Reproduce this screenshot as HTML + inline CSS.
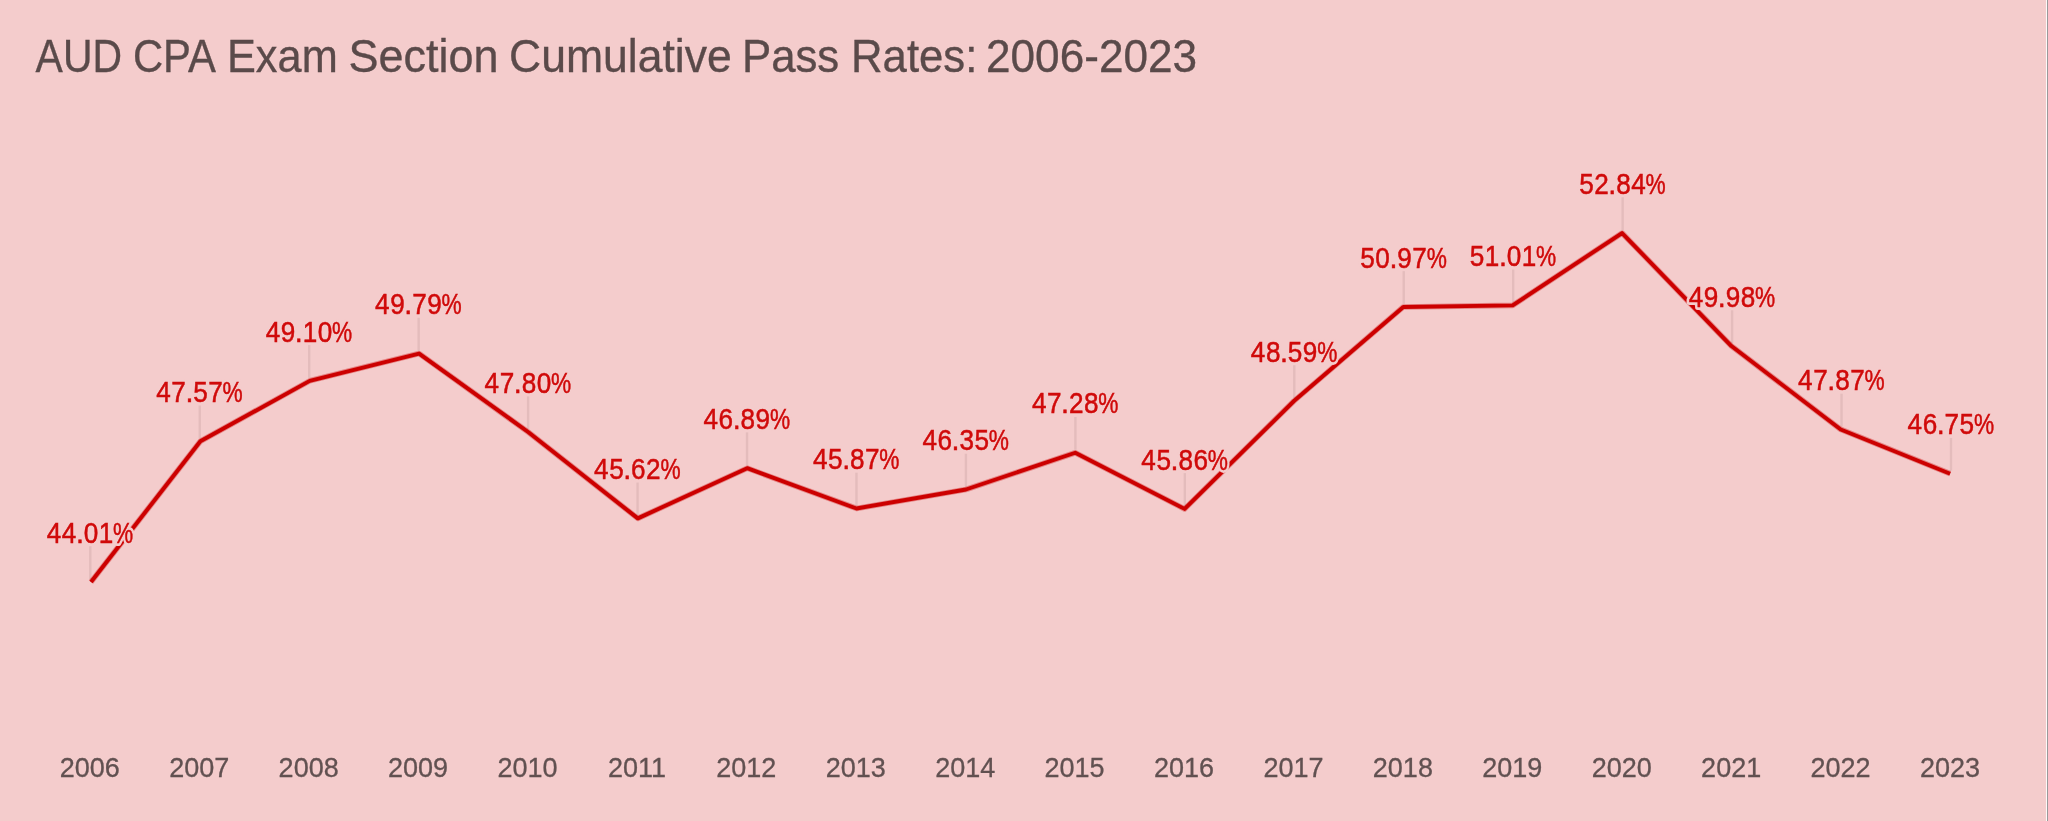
<!DOCTYPE html>
<html><head><meta charset="utf-8"><style>
html,body{margin:0;padding:0;background:#f4cccc;width:2048px;height:821px;overflow:hidden}
svg{display:block;will-change:transform}
text{font-family:"Liberation Sans",sans-serif}
.ld{stroke:#e4bcbc;stroke-width:2.4}
.lb{font-size:28.7px;fill:#d00a0a;stroke:#d00a0a;stroke-width:0.5px;text-anchor:middle}
.lb.halo{stroke:#f4cccc;fill:#f4cccc;stroke-width:6px;stroke-linejoin:round}
.ax{font-size:27px;fill:#615151;stroke:#615151;stroke-width:0.3px;text-anchor:middle}
.ti{font-size:46.5px;fill:#5a4a4a;stroke:#5a4a4a;stroke-width:0.35px}
</style></head><body>
<svg width="2048" height="821" viewBox="0 0 2048 821">
<rect x="0" y="0" width="2048" height="821" fill="#f4cccc"/>
<line x1="90.30" y1="546.20" x2="90.30" y2="579.00" class="ld"/>
<line x1="199.75" y1="405.51" x2="199.75" y2="438.31" class="ld"/>
<line x1="309.21" y1="345.04" x2="309.21" y2="377.84" class="ld"/>
<line x1="418.66" y1="317.77" x2="418.66" y2="350.57" class="ld"/>
<line x1="528.11" y1="396.42" x2="528.11" y2="429.22" class="ld"/>
<line x1="637.56" y1="482.57" x2="637.56" y2="515.37" class="ld"/>
<line x1="747.02" y1="432.38" x2="747.02" y2="465.18" class="ld"/>
<line x1="856.47" y1="472.69" x2="856.47" y2="505.49" class="ld"/>
<line x1="965.92" y1="453.72" x2="965.92" y2="486.52" class="ld"/>
<line x1="1075.38" y1="416.97" x2="1075.38" y2="449.77" class="ld"/>
<line x1="1184.83" y1="473.09" x2="1184.83" y2="505.89" class="ld"/>
<line x1="1294.28" y1="365.20" x2="1294.28" y2="398.00" class="ld"/>
<line x1="1403.74" y1="271.14" x2="1403.74" y2="303.94" class="ld"/>
<line x1="1513.19" y1="269.56" x2="1513.19" y2="302.36" class="ld"/>
<line x1="1622.64" y1="197.24" x2="1622.64" y2="230.04" class="ld"/>
<line x1="1732.09" y1="310.27" x2="1732.09" y2="343.07" class="ld"/>
<line x1="1841.55" y1="393.65" x2="1841.55" y2="426.45" class="ld"/>
<line x1="1951.00" y1="437.92" x2="1951.00" y2="470.72" class="ld"/>
<polyline points="91.00,582.00 200.36,441.31 309.72,380.84 419.08,353.57 528.44,432.22 637.80,518.37 747.16,468.18 856.52,508.49 965.88,489.52 1075.24,452.77 1184.60,508.89 1293.96,401.00 1403.32,306.94 1512.68,305.36 1622.04,233.04 1731.40,346.07 1840.76,429.45 1950.12,473.72" fill="none" stroke="#cc0000" stroke-opacity="0.35" stroke-width="5.6" stroke-linejoin="round" stroke-linecap="butt"/>
<polyline points="91.00,582.00 200.36,441.31 309.72,380.84 419.08,353.57 528.44,432.22 637.80,518.37 747.16,468.18 856.52,508.49 965.88,489.52 1075.24,452.77 1184.60,508.89 1293.96,401.00 1403.32,306.94 1512.68,305.36 1622.04,233.04 1731.40,346.07 1840.76,429.45 1950.12,473.72" fill="none" stroke="#cc0000" stroke-width="3.9" stroke-linejoin="round" stroke-linecap="butt"/>
<text transform="translate(54.00,542.70) scale(0.91,1)" class="lb halo">4</text>
<text transform="translate(69.10,542.70) scale(0.91,1)" class="lb halo">4</text>
<text transform="translate(79.90,542.70) scale(1.0,1)" class="lb halo">.</text>
<text transform="translate(91.05,542.70) scale(0.91,1)" class="lb halo">0</text>
<text transform="translate(106.05,542.70) scale(0.91,1)" class="lb halo">1</text>
<text transform="translate(123.20,542.70) scale(0.79,1)" class="lb halo">%</text>
<text transform="translate(163.46,402.01) scale(0.91,1)" class="lb halo">4</text>
<text transform="translate(178.56,402.01) scale(0.91,1)" class="lb halo">7</text>
<text transform="translate(189.36,402.01) scale(1.0,1)" class="lb halo">.</text>
<text transform="translate(200.51,402.01) scale(0.91,1)" class="lb halo">5</text>
<text transform="translate(215.51,402.01) scale(0.91,1)" class="lb halo">7</text>
<text transform="translate(232.66,402.01) scale(0.79,1)" class="lb halo">%</text>
<text transform="translate(272.92,341.54) scale(0.91,1)" class="lb halo">4</text>
<text transform="translate(288.02,341.54) scale(0.91,1)" class="lb halo">9</text>
<text transform="translate(298.82,341.54) scale(1.0,1)" class="lb halo">.</text>
<text transform="translate(309.97,341.54) scale(0.91,1)" class="lb halo">1</text>
<text transform="translate(324.97,341.54) scale(0.91,1)" class="lb halo">0</text>
<text transform="translate(342.12,341.54) scale(0.79,1)" class="lb halo">%</text>
<text transform="translate(382.38,314.27) scale(0.91,1)" class="lb halo">4</text>
<text transform="translate(397.48,314.27) scale(0.91,1)" class="lb halo">9</text>
<text transform="translate(408.28,314.27) scale(1.0,1)" class="lb halo">.</text>
<text transform="translate(419.43,314.27) scale(0.91,1)" class="lb halo">7</text>
<text transform="translate(434.43,314.27) scale(0.91,1)" class="lb halo">9</text>
<text transform="translate(451.58,314.27) scale(0.79,1)" class="lb halo">%</text>
<text transform="translate(491.84,392.92) scale(0.91,1)" class="lb halo">4</text>
<text transform="translate(506.94,392.92) scale(0.91,1)" class="lb halo">7</text>
<text transform="translate(517.74,392.92) scale(1.0,1)" class="lb halo">.</text>
<text transform="translate(528.89,392.92) scale(0.91,1)" class="lb halo">8</text>
<text transform="translate(543.89,392.92) scale(0.91,1)" class="lb halo">0</text>
<text transform="translate(561.04,392.92) scale(0.79,1)" class="lb halo">%</text>
<text transform="translate(601.30,479.07) scale(0.91,1)" class="lb halo">4</text>
<text transform="translate(616.40,479.07) scale(0.91,1)" class="lb halo">5</text>
<text transform="translate(627.20,479.07) scale(1.0,1)" class="lb halo">.</text>
<text transform="translate(638.35,479.07) scale(0.91,1)" class="lb halo">6</text>
<text transform="translate(653.35,479.07) scale(0.91,1)" class="lb halo">2</text>
<text transform="translate(670.50,479.07) scale(0.79,1)" class="lb halo">%</text>
<text transform="translate(710.76,428.88) scale(0.91,1)" class="lb halo">4</text>
<text transform="translate(725.86,428.88) scale(0.91,1)" class="lb halo">6</text>
<text transform="translate(736.66,428.88) scale(1.0,1)" class="lb halo">.</text>
<text transform="translate(747.81,428.88) scale(0.91,1)" class="lb halo">8</text>
<text transform="translate(762.81,428.88) scale(0.91,1)" class="lb halo">9</text>
<text transform="translate(779.96,428.88) scale(0.79,1)" class="lb halo">%</text>
<text transform="translate(820.22,469.19) scale(0.91,1)" class="lb halo">4</text>
<text transform="translate(835.32,469.19) scale(0.91,1)" class="lb halo">5</text>
<text transform="translate(846.12,469.19) scale(1.0,1)" class="lb halo">.</text>
<text transform="translate(857.27,469.19) scale(0.91,1)" class="lb halo">8</text>
<text transform="translate(872.27,469.19) scale(0.91,1)" class="lb halo">7</text>
<text transform="translate(889.42,469.19) scale(0.79,1)" class="lb halo">%</text>
<text transform="translate(929.68,450.22) scale(0.91,1)" class="lb halo">4</text>
<text transform="translate(944.78,450.22) scale(0.91,1)" class="lb halo">6</text>
<text transform="translate(955.58,450.22) scale(1.0,1)" class="lb halo">.</text>
<text transform="translate(966.73,450.22) scale(0.91,1)" class="lb halo">3</text>
<text transform="translate(981.73,450.22) scale(0.91,1)" class="lb halo">5</text>
<text transform="translate(998.88,450.22) scale(0.79,1)" class="lb halo">%</text>
<text transform="translate(1039.14,413.47) scale(0.91,1)" class="lb halo">4</text>
<text transform="translate(1054.24,413.47) scale(0.91,1)" class="lb halo">7</text>
<text transform="translate(1065.04,413.47) scale(1.0,1)" class="lb halo">.</text>
<text transform="translate(1076.19,413.47) scale(0.91,1)" class="lb halo">2</text>
<text transform="translate(1091.19,413.47) scale(0.91,1)" class="lb halo">8</text>
<text transform="translate(1108.34,413.47) scale(0.79,1)" class="lb halo">%</text>
<text transform="translate(1148.60,469.59) scale(0.91,1)" class="lb halo">4</text>
<text transform="translate(1163.70,469.59) scale(0.91,1)" class="lb halo">5</text>
<text transform="translate(1174.50,469.59) scale(1.0,1)" class="lb halo">.</text>
<text transform="translate(1185.65,469.59) scale(0.91,1)" class="lb halo">8</text>
<text transform="translate(1200.65,469.59) scale(0.91,1)" class="lb halo">6</text>
<text transform="translate(1217.80,469.59) scale(0.79,1)" class="lb halo">%</text>
<text transform="translate(1258.06,361.70) scale(0.91,1)" class="lb halo">4</text>
<text transform="translate(1273.16,361.70) scale(0.91,1)" class="lb halo">8</text>
<text transform="translate(1283.96,361.70) scale(1.0,1)" class="lb halo">.</text>
<text transform="translate(1295.11,361.70) scale(0.91,1)" class="lb halo">5</text>
<text transform="translate(1310.11,361.70) scale(0.91,1)" class="lb halo">9</text>
<text transform="translate(1327.26,361.70) scale(0.79,1)" class="lb halo">%</text>
<text transform="translate(1367.52,267.64) scale(0.91,1)" class="lb halo">5</text>
<text transform="translate(1382.62,267.64) scale(0.91,1)" class="lb halo">0</text>
<text transform="translate(1393.42,267.64) scale(1.0,1)" class="lb halo">.</text>
<text transform="translate(1404.57,267.64) scale(0.91,1)" class="lb halo">9</text>
<text transform="translate(1419.57,267.64) scale(0.91,1)" class="lb halo">7</text>
<text transform="translate(1436.72,267.64) scale(0.79,1)" class="lb halo">%</text>
<text transform="translate(1476.98,266.06) scale(0.91,1)" class="lb halo">5</text>
<text transform="translate(1492.08,266.06) scale(0.91,1)" class="lb halo">1</text>
<text transform="translate(1502.88,266.06) scale(1.0,1)" class="lb halo">.</text>
<text transform="translate(1514.03,266.06) scale(0.91,1)" class="lb halo">0</text>
<text transform="translate(1529.03,266.06) scale(0.91,1)" class="lb halo">1</text>
<text transform="translate(1546.18,266.06) scale(0.79,1)" class="lb halo">%</text>
<text transform="translate(1586.44,193.74) scale(0.91,1)" class="lb halo">5</text>
<text transform="translate(1601.54,193.74) scale(0.91,1)" class="lb halo">2</text>
<text transform="translate(1612.34,193.74) scale(1.0,1)" class="lb halo">.</text>
<text transform="translate(1623.49,193.74) scale(0.91,1)" class="lb halo">8</text>
<text transform="translate(1638.49,193.74) scale(0.91,1)" class="lb halo">4</text>
<text transform="translate(1655.64,193.74) scale(0.79,1)" class="lb halo">%</text>
<text transform="translate(1695.90,306.77) scale(0.91,1)" class="lb halo">4</text>
<text transform="translate(1711.00,306.77) scale(0.91,1)" class="lb halo">9</text>
<text transform="translate(1721.80,306.77) scale(1.0,1)" class="lb halo">.</text>
<text transform="translate(1732.95,306.77) scale(0.91,1)" class="lb halo">9</text>
<text transform="translate(1747.95,306.77) scale(0.91,1)" class="lb halo">8</text>
<text transform="translate(1765.10,306.77) scale(0.79,1)" class="lb halo">%</text>
<text transform="translate(1805.36,390.15) scale(0.91,1)" class="lb halo">4</text>
<text transform="translate(1820.46,390.15) scale(0.91,1)" class="lb halo">7</text>
<text transform="translate(1831.26,390.15) scale(1.0,1)" class="lb halo">.</text>
<text transform="translate(1842.41,390.15) scale(0.91,1)" class="lb halo">8</text>
<text transform="translate(1857.41,390.15) scale(0.91,1)" class="lb halo">7</text>
<text transform="translate(1874.56,390.15) scale(0.79,1)" class="lb halo">%</text>
<text transform="translate(1914.82,434.42) scale(0.91,1)" class="lb halo">4</text>
<text transform="translate(1929.92,434.42) scale(0.91,1)" class="lb halo">6</text>
<text transform="translate(1940.72,434.42) scale(1.0,1)" class="lb halo">.</text>
<text transform="translate(1951.87,434.42) scale(0.91,1)" class="lb halo">7</text>
<text transform="translate(1966.87,434.42) scale(0.91,1)" class="lb halo">5</text>
<text transform="translate(1984.02,434.42) scale(0.79,1)" class="lb halo">%</text>
<text transform="translate(54.00,542.70) scale(0.91,1)" class="lb">4</text>
<text transform="translate(69.10,542.70) scale(0.91,1)" class="lb">4</text>
<text transform="translate(79.90,542.70) scale(1.0,1)" class="lb">.</text>
<text transform="translate(91.05,542.70) scale(0.91,1)" class="lb">0</text>
<text transform="translate(106.05,542.70) scale(0.91,1)" class="lb">1</text>
<text transform="translate(123.20,542.70) scale(0.79,1)" class="lb">%</text>
<text transform="translate(163.46,402.01) scale(0.91,1)" class="lb">4</text>
<text transform="translate(178.56,402.01) scale(0.91,1)" class="lb">7</text>
<text transform="translate(189.36,402.01) scale(1.0,1)" class="lb">.</text>
<text transform="translate(200.51,402.01) scale(0.91,1)" class="lb">5</text>
<text transform="translate(215.51,402.01) scale(0.91,1)" class="lb">7</text>
<text transform="translate(232.66,402.01) scale(0.79,1)" class="lb">%</text>
<text transform="translate(272.92,341.54) scale(0.91,1)" class="lb">4</text>
<text transform="translate(288.02,341.54) scale(0.91,1)" class="lb">9</text>
<text transform="translate(298.82,341.54) scale(1.0,1)" class="lb">.</text>
<text transform="translate(309.97,341.54) scale(0.91,1)" class="lb">1</text>
<text transform="translate(324.97,341.54) scale(0.91,1)" class="lb">0</text>
<text transform="translate(342.12,341.54) scale(0.79,1)" class="lb">%</text>
<text transform="translate(382.38,314.27) scale(0.91,1)" class="lb">4</text>
<text transform="translate(397.48,314.27) scale(0.91,1)" class="lb">9</text>
<text transform="translate(408.28,314.27) scale(1.0,1)" class="lb">.</text>
<text transform="translate(419.43,314.27) scale(0.91,1)" class="lb">7</text>
<text transform="translate(434.43,314.27) scale(0.91,1)" class="lb">9</text>
<text transform="translate(451.58,314.27) scale(0.79,1)" class="lb">%</text>
<text transform="translate(491.84,392.92) scale(0.91,1)" class="lb">4</text>
<text transform="translate(506.94,392.92) scale(0.91,1)" class="lb">7</text>
<text transform="translate(517.74,392.92) scale(1.0,1)" class="lb">.</text>
<text transform="translate(528.89,392.92) scale(0.91,1)" class="lb">8</text>
<text transform="translate(543.89,392.92) scale(0.91,1)" class="lb">0</text>
<text transform="translate(561.04,392.92) scale(0.79,1)" class="lb">%</text>
<text transform="translate(601.30,479.07) scale(0.91,1)" class="lb">4</text>
<text transform="translate(616.40,479.07) scale(0.91,1)" class="lb">5</text>
<text transform="translate(627.20,479.07) scale(1.0,1)" class="lb">.</text>
<text transform="translate(638.35,479.07) scale(0.91,1)" class="lb">6</text>
<text transform="translate(653.35,479.07) scale(0.91,1)" class="lb">2</text>
<text transform="translate(670.50,479.07) scale(0.79,1)" class="lb">%</text>
<text transform="translate(710.76,428.88) scale(0.91,1)" class="lb">4</text>
<text transform="translate(725.86,428.88) scale(0.91,1)" class="lb">6</text>
<text transform="translate(736.66,428.88) scale(1.0,1)" class="lb">.</text>
<text transform="translate(747.81,428.88) scale(0.91,1)" class="lb">8</text>
<text transform="translate(762.81,428.88) scale(0.91,1)" class="lb">9</text>
<text transform="translate(779.96,428.88) scale(0.79,1)" class="lb">%</text>
<text transform="translate(820.22,469.19) scale(0.91,1)" class="lb">4</text>
<text transform="translate(835.32,469.19) scale(0.91,1)" class="lb">5</text>
<text transform="translate(846.12,469.19) scale(1.0,1)" class="lb">.</text>
<text transform="translate(857.27,469.19) scale(0.91,1)" class="lb">8</text>
<text transform="translate(872.27,469.19) scale(0.91,1)" class="lb">7</text>
<text transform="translate(889.42,469.19) scale(0.79,1)" class="lb">%</text>
<text transform="translate(929.68,450.22) scale(0.91,1)" class="lb">4</text>
<text transform="translate(944.78,450.22) scale(0.91,1)" class="lb">6</text>
<text transform="translate(955.58,450.22) scale(1.0,1)" class="lb">.</text>
<text transform="translate(966.73,450.22) scale(0.91,1)" class="lb">3</text>
<text transform="translate(981.73,450.22) scale(0.91,1)" class="lb">5</text>
<text transform="translate(998.88,450.22) scale(0.79,1)" class="lb">%</text>
<text transform="translate(1039.14,413.47) scale(0.91,1)" class="lb">4</text>
<text transform="translate(1054.24,413.47) scale(0.91,1)" class="lb">7</text>
<text transform="translate(1065.04,413.47) scale(1.0,1)" class="lb">.</text>
<text transform="translate(1076.19,413.47) scale(0.91,1)" class="lb">2</text>
<text transform="translate(1091.19,413.47) scale(0.91,1)" class="lb">8</text>
<text transform="translate(1108.34,413.47) scale(0.79,1)" class="lb">%</text>
<text transform="translate(1148.60,469.59) scale(0.91,1)" class="lb">4</text>
<text transform="translate(1163.70,469.59) scale(0.91,1)" class="lb">5</text>
<text transform="translate(1174.50,469.59) scale(1.0,1)" class="lb">.</text>
<text transform="translate(1185.65,469.59) scale(0.91,1)" class="lb">8</text>
<text transform="translate(1200.65,469.59) scale(0.91,1)" class="lb">6</text>
<text transform="translate(1217.80,469.59) scale(0.79,1)" class="lb">%</text>
<text transform="translate(1258.06,361.70) scale(0.91,1)" class="lb">4</text>
<text transform="translate(1273.16,361.70) scale(0.91,1)" class="lb">8</text>
<text transform="translate(1283.96,361.70) scale(1.0,1)" class="lb">.</text>
<text transform="translate(1295.11,361.70) scale(0.91,1)" class="lb">5</text>
<text transform="translate(1310.11,361.70) scale(0.91,1)" class="lb">9</text>
<text transform="translate(1327.26,361.70) scale(0.79,1)" class="lb">%</text>
<text transform="translate(1367.52,267.64) scale(0.91,1)" class="lb">5</text>
<text transform="translate(1382.62,267.64) scale(0.91,1)" class="lb">0</text>
<text transform="translate(1393.42,267.64) scale(1.0,1)" class="lb">.</text>
<text transform="translate(1404.57,267.64) scale(0.91,1)" class="lb">9</text>
<text transform="translate(1419.57,267.64) scale(0.91,1)" class="lb">7</text>
<text transform="translate(1436.72,267.64) scale(0.79,1)" class="lb">%</text>
<text transform="translate(1476.98,266.06) scale(0.91,1)" class="lb">5</text>
<text transform="translate(1492.08,266.06) scale(0.91,1)" class="lb">1</text>
<text transform="translate(1502.88,266.06) scale(1.0,1)" class="lb">.</text>
<text transform="translate(1514.03,266.06) scale(0.91,1)" class="lb">0</text>
<text transform="translate(1529.03,266.06) scale(0.91,1)" class="lb">1</text>
<text transform="translate(1546.18,266.06) scale(0.79,1)" class="lb">%</text>
<text transform="translate(1586.44,193.74) scale(0.91,1)" class="lb">5</text>
<text transform="translate(1601.54,193.74) scale(0.91,1)" class="lb">2</text>
<text transform="translate(1612.34,193.74) scale(1.0,1)" class="lb">.</text>
<text transform="translate(1623.49,193.74) scale(0.91,1)" class="lb">8</text>
<text transform="translate(1638.49,193.74) scale(0.91,1)" class="lb">4</text>
<text transform="translate(1655.64,193.74) scale(0.79,1)" class="lb">%</text>
<text transform="translate(1695.90,306.77) scale(0.91,1)" class="lb">4</text>
<text transform="translate(1711.00,306.77) scale(0.91,1)" class="lb">9</text>
<text transform="translate(1721.80,306.77) scale(1.0,1)" class="lb">.</text>
<text transform="translate(1732.95,306.77) scale(0.91,1)" class="lb">9</text>
<text transform="translate(1747.95,306.77) scale(0.91,1)" class="lb">8</text>
<text transform="translate(1765.10,306.77) scale(0.79,1)" class="lb">%</text>
<text transform="translate(1805.36,390.15) scale(0.91,1)" class="lb">4</text>
<text transform="translate(1820.46,390.15) scale(0.91,1)" class="lb">7</text>
<text transform="translate(1831.26,390.15) scale(1.0,1)" class="lb">.</text>
<text transform="translate(1842.41,390.15) scale(0.91,1)" class="lb">8</text>
<text transform="translate(1857.41,390.15) scale(0.91,1)" class="lb">7</text>
<text transform="translate(1874.56,390.15) scale(0.79,1)" class="lb">%</text>
<text transform="translate(1914.82,434.42) scale(0.91,1)" class="lb">4</text>
<text transform="translate(1929.92,434.42) scale(0.91,1)" class="lb">6</text>
<text transform="translate(1940.72,434.42) scale(1.0,1)" class="lb">.</text>
<text transform="translate(1951.87,434.42) scale(0.91,1)" class="lb">7</text>
<text transform="translate(1966.87,434.42) scale(0.91,1)" class="lb">5</text>
<text transform="translate(1984.02,434.42) scale(0.79,1)" class="lb">%</text>
<text x="89.80" y="777" class="ax">2006</text>
<text x="199.22" y="777" class="ax">2007</text>
<text x="308.65" y="777" class="ax">2008</text>
<text x="418.07" y="777" class="ax">2009</text>
<text x="527.49" y="777" class="ax">2010</text>
<text x="636.92" y="777" class="ax">2011</text>
<text x="746.34" y="777" class="ax">2012</text>
<text x="855.76" y="777" class="ax">2013</text>
<text x="965.19" y="777" class="ax">2014</text>
<text x="1074.61" y="777" class="ax">2015</text>
<text x="1184.04" y="777" class="ax">2016</text>
<text x="1293.46" y="777" class="ax">2017</text>
<text x="1402.88" y="777" class="ax">2018</text>
<text x="1512.31" y="777" class="ax">2019</text>
<text x="1621.73" y="777" class="ax">2020</text>
<text x="1731.15" y="777" class="ax">2021</text>
<text x="1840.58" y="777" class="ax">2022</text>
<text x="1950.00" y="777" class="ax">2023</text>
<g transform="translate(35.60,71.7) scale(0.8802,1)"><text class="ti">AUD</text></g>
<g transform="translate(132.90,71.7) scale(0.9000,1)"><text class="ti">CPA</text></g>
<g transform="translate(226.97,71.7) scale(0.9321,1)"><text class="ti">Exam</text></g>
<g transform="translate(348.57,71.7) scale(0.9667,1)"><text class="ti">Section</text></g>
<g transform="translate(508.98,71.7) scale(0.9581,1)"><text class="ti">Cumulative</text></g>
<g transform="translate(741.93,71.7) scale(0.9418,1)"><text class="ti">Pass</text></g>
<g transform="translate(851.04,71.7) scale(0.9397,1)"><text class="ti">Rates:</text></g>
<g transform="translate(986.00,71.7) scale(0.9498,1)"><text class="ti">2006-2023</text></g>
<rect x="2046" y="0" width="1" height="821" fill="#ffffff" fill-opacity="0.85"/>
<rect x="2047" y="0" width="1" height="821" fill="#9a9a9a"/>
</svg>
</body></html>
